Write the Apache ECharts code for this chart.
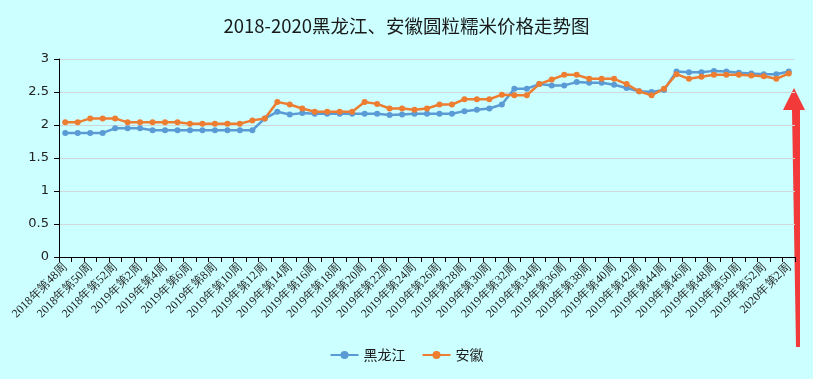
<!DOCTYPE html>
<html><head><meta charset="utf-8">
<script src="https://cdn.jsdelivr.net/npm/echarts@6/dist/echarts.min.js"></script>
<style>html,body{margin:0;padding:0;background:#ccffff;}#c{width:813px;height:379px;}</style>
</head><body><div id="c"></div>
<script>
// weeks: 2018 w48 .. 2020 w2
const categories = [
 '2018年第48周','2018年第49周','2018年第50周','2018年第51周','2018年第52周',
 '2019年第1周','2019年第2周','2019年第3周','2019年第4周','2019年第5周','2019年第6周','2019年第7周','2019年第8周','2019年第9周','2019年第10周',
 '2019年第11周','2019年第12周','2019年第13周','2019年第14周','2019年第15周','2019年第16周','2019年第17周','2019年第18周','2019年第19周','2019年第20周',
 '2019年第21周','2019年第22周','2019年第23周','2019年第24周','2019年第25周','2019年第26周','2019年第27周','2019年第28周','2019年第29周','2019年第30周',
 '2019年第31周','2019年第32周','2019年第33周','2019年第34周','2019年第35周','2019年第36周','2019年第37周','2019年第38周','2019年第39周','2019年第40周',
 '2019年第41周','2019年第42周','2019年第43周','2019年第44周','2019年第45周','2019年第46周','2019年第47周','2019年第48周','2019年第49周','2019年第50周',
 '2019年第51周','2019年第52周','2020年第1周','2020年第2周'
];
const heilongjiang = [
 1.88,1.88,1.88,1.88,1.95,1.95,1.95,1.92,1.92,1.92,
 1.92,1.92,1.92,1.92,1.92,1.92,2.10,2.20,2.16,2.18,
 2.17,2.17,2.17,2.17,2.17,2.17,2.15,2.16,2.17,2.17,
 2.17,2.17,2.21,2.23,2.25,2.31,2.55,2.55,2.62,2.60,
 2.60,2.65,2.64,2.64,2.61,2.56,2.51,2.50,2.53,2.81,
 2.80,2.80,2.82,2.81,2.79,2.78,2.77,2.77,2.81
];
const anhui = [
 2.04,2.04,2.10,2.10,2.10,2.04,2.04,2.04,2.04,2.04,
 2.02,2.02,2.02,2.02,2.02,2.07,2.10,2.35,2.31,2.25,
 2.20,2.20,2.20,2.20,2.35,2.32,2.25,2.25,2.23,2.25,
 2.31,2.31,2.39,2.39,2.39,2.46,2.45,2.45,2.62,2.69,
 2.76,2.76,2.70,2.70,2.70,2.62,2.51,2.45,2.55,2.77,
 2.70,2.73,2.76,2.76,2.76,2.75,2.74,2.70,2.78
];
const seriesNames = ['黑龙江','安徽'];
const yTicks = {min:0, max:3, interval:0.5};

const chart = echarts.init(document.getElementById('c'));
chart.setOption({
  backgroundColor:'#ccffff',
  animation:false,
  title:{text:'2018-2020黑龙江、安徽圆粒糯米价格走势图',left:'center',top:12,
    textStyle:{fontFamily:'Noto Sans CJK SC',fontSize:18.5,fontWeight:'normal',color:'#1a1a1a'}},
  legend:{bottom:12,left:'center',itemWidth:28,itemHeight:10,itemGap:16,
    textStyle:{fontFamily:'Noto Sans CJK SC',fontSize:14,color:'#1a1a1a'},
    data:seriesNames},
  grid:{left:59,right:18,top:59,bottom:122},
  xAxis:{type:'category',data:categories,boundaryGap:true,
    axisLine:{lineStyle:{color:'#000',width:1}},
    axisTick:{show:true,interval:0,length:5,lineStyle:{color:'#000'}},
    axisLabel:{interval:1,rotate:45,fontFamily:'Liberation Serif',fontSize:12,color:'#222',margin:8}},
  yAxis:{type:'value',min:yTicks.min,max:yTicks.max,interval:yTicks.interval,
    axisLine:{show:true,lineStyle:{color:'#000'}},
    axisTick:{show:true,length:5,lineStyle:{color:'#000'}},
    splitLine:{lineStyle:{color:'#d0d8d8'}},
    axisLabel:{fontFamily:'DejaVu Sans',fontSize:13,color:'#222',margin:10}},
  series:[
    {name:seriesNames[0],type:'line',data:heilongjiang,symbol:'circle',symbolSize:6,
     lineStyle:{width:2.5,color:'#5b9bd5'},itemStyle:{color:'#5b9bd5'}},
    {name:seriesNames[1],type:'line',data:anhui,symbol:'circle',symbolSize:6,
     lineStyle:{width:2.5,color:'#ed7d31'},itemStyle:{color:'#ed7d31'}}
  ],
  graphic:[
    {type:'polygon',shape:{points:[[794,88],[805,110],[800,110],[800,347],[796,347],[792,110],[783,110]]},
     style:{fill:'#f23a3a'}}
  ]
});
</script></body></html>
